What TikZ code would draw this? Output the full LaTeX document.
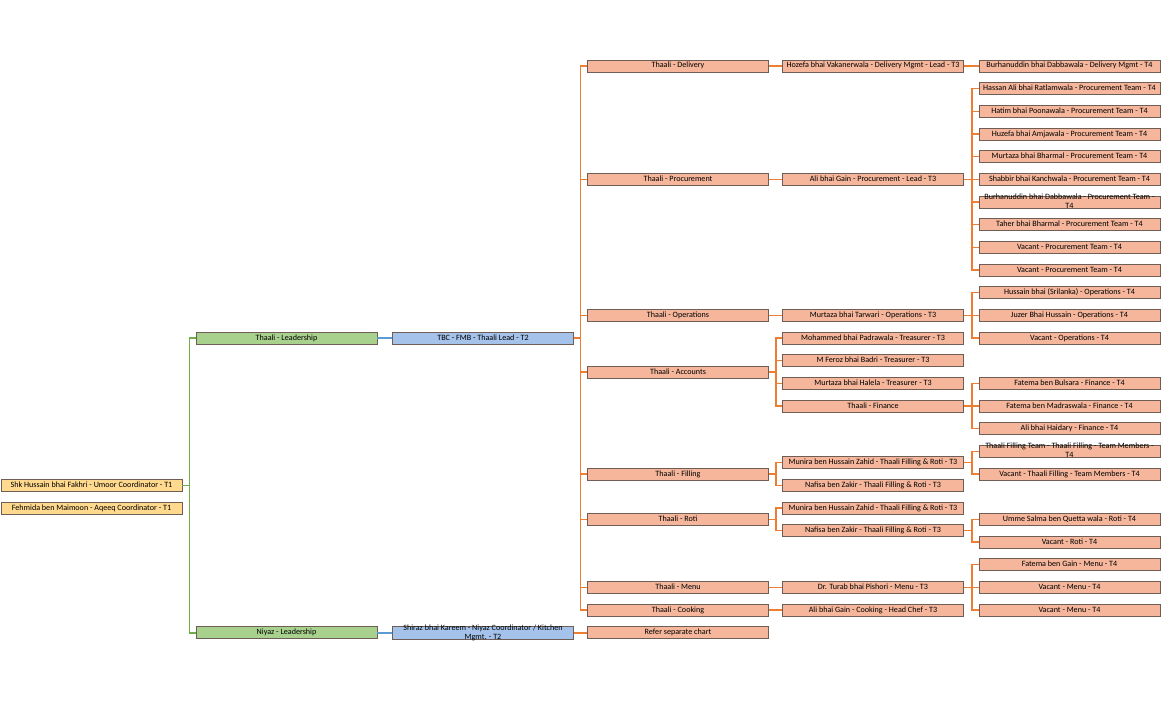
\documentclass[tikz,border=0pt]{standalone}
\usepackage{fontspec}
\setmainfont{Carlito}
\usepackage{tikz}
\usetikzlibrary{positioning,calc}
\definecolor{chartyellow}{HTML}{FFD98E}
\definecolor{chartgreen}{HTML}{A9D18E}
\definecolor{chartblue}{HTML}{A4C2EA}
\definecolor{chartsalmon}{HTML}{F5B69B}
\definecolor{linegreen}{HTML}{70AD47}
\definecolor{lineblue}{HTML}{5B9BD5}
\definecolor{lineorange}{HTML}{ED7D31}
\definecolor{boxedge}{HTML}{6E5E55}

\begin{document}
\begin{tikzpicture}[
    x=1pt, y=-22.67pt,
    box/.style={rectangle, draw=boxedge, line width=0.6pt, minimum width=181pt, inner xsep=1pt, inner ysep=2pt,
        text height=6pt, text depth=2pt, align=center, font=\fontsize{8.1}{8.8}\selectfont},
    wrapbox/.style={text width=179pt, align=flush center, text height=1.7pt, text depth=6.5pt},
    tone/.style={box, fill=chartyellow},
    ttwo/.style={box, fill=chartgreen},
    tthree/.style={box, fill=chartblue},
    tfour/.style={box, fill=chartsalmon},
    gline/.style={draw=linegreen, line width=1.5pt},
    bline/.style={draw=lineblue, line width=1.5pt},
    oline/.style={draw=lineorange, line width=1.5pt}
]
    \useasboundingbox (0,-2.911) rectangle (1164,27.967);

    % Coordinators
    \node (shk) [tone] at (91.5,18.5) {Shk Hussain bhai Fakhri - Umoor Coordinator - T1};
    \node (fehmida) [tone] at (91.5,19.5) {Fehmida ben Maimoon - Aqeeq Coordinator - T1};

    % Leadership
    \node (thaalilead) [ttwo] at (286.5,12) {Thaali - Leadership};
    \node (niyazlead) [ttwo] at (286.5,25) {Niyaz - Leadership};
    \node (tbc) [tthree] at (483,12) {TBC - FMB - Thaali Lead - T2};
    \node (shiraz) [tthree, wrapbox] at (483,25) {Shiraz bhai Kareem - Niyaz Coordinator / Kitchen\\ Mgmt. - T2};

    % Thaali areas
    \node (delivery) [tfour] at (678,0) {Thaali - Delivery};
    \node (procure) [tfour] at (678,5) {Thaali - Procurement};
    \node (ops) [tfour] at (678,11) {Thaali - Operations};
    \node (accounts) [tfour] at (678,13.5) {Thaali - Accounts};
    \node (filling) [tfour] at (678,18) {Thaali - Filling};
    \node (roti) [tfour] at (678,20) {Thaali - Roti};
    \node (menu) [tfour] at (678,23) {Thaali - Menu};
    \node (cooking) [tfour] at (678,24) {Thaali - Cooking};
    \node (refer) [tfour] at (678,25) {Refer separate chart};

    % T3 leads
    \node (hozefa) [tfour] at (873,0) {Hozefa bhai Vakanerwala - Delivery Mgmt - Lead - T3};
    \node (aligain) [tfour] at (873,5) {Ali bhai Gain - Procurement - Lead - T3};
    \node (tarwari) [tfour] at (873,11) {Murtaza bhai Tarwari - Operations - T3};
    \node (padrawala) [tfour] at (873,12) {Mohammed bhai Padrawala - Treasurer - T3};
    \node (feroz) [tfour] at (873,13) {M Feroz bhai Badri - Treasurer - T3};
    \node (halela) [tfour] at (873,14) {Murtaza bhai Halela - Treasurer - T3};
    \node (finance) [tfour] at (873,15) {Thaali - Finance};
    \node (munirafill) [tfour] at (873,17.5) {Munira ben Hussain Zahid - Thaali Filling \& Roti - T3};
    \node (nafisafill) [tfour] at (873,18.5) {Nafisa ben Zakir - Thaali Filling \& Roti - T3};
    \node (munirarot) [tfour] at (873,19.5) {Munira ben Hussain Zahid - Thaali Filling \& Roti - T3};
    \node (nafisarot) [tfour] at (873,20.5) {Nafisa ben Zakir - Thaali Filling \& Roti - T3};
    \node (turab) [tfour] at (873,23) {Dr. Turab bhai Pishori - Menu - T3};
    \node (alicook) [tfour] at (873,24) {Ali bhai Gain - Cooking - Head Chef - T3};

    % T4 team members
    \node (burhandel) [tfour] at (1069.5,0) {Burhanuddin bhai Dabbawala - Delivery Mgmt - T4};
    \node (hassan) [tfour] at (1069.5,1) {Hassan Ali bhai Ratlamwala - Procurement Team - T4};
    \node (hatim) [tfour] at (1069.5,2) {Hatim bhai Poonawala - Procurement Team - T4};
    \node (huzefa) [tfour] at (1069.5,3) {Huzefa bhai Amjawala - Procurement Team - T4};
    \node (bharmal) [tfour] at (1069.5,4) {Murtaza bhai Bharmal - Procurement Team - T4};
    \node (shabbir) [tfour] at (1069.5,5) {Shabbir bhai Kanchwala - Procurement Team - T4};
    \node (burhanproc) [tfour, wrapbox] at (1069.5,6) {Burhanuddin bhai Dabbawala - Procurement Team -\\ T4};
    \node (taher) [tfour] at (1069.5,7) {Taher bhai Bharmal - Procurement Team - T4};
    \node (vacproca) [tfour] at (1069.5,8) {Vacant - Procurement Team - T4};
    \node (vacprocb) [tfour] at (1069.5,9) {Vacant - Procurement Team - T4};
    \node (hussain) [tfour] at (1069.5,10) {Hussain bhai (Srilanka) - Operations - T4};
    \node (juzer) [tfour] at (1069.5,11) {Juzer Bhai Hussain - Operations - T4};
    \node (vacops) [tfour] at (1069.5,12) {Vacant - Operations - T4};
    \node (bulsara) [tfour] at (1069.5,14) {Fatema ben Bulsara - Finance - T4};
    \node (madraswala) [tfour] at (1069.5,15) {Fatema ben Madraswala - Finance - T4};
    \node (haidary) [tfour] at (1069.5,16) {Ali bhai Haidary - Finance - T4};
    \node (fillteam) [tfour, wrapbox] at (1069.5,17) {Thaali Filling Team - Thaali Filling - Team Members -\\ T4};
    \node (vacfill) [tfour] at (1069.5,18) {Vacant - Thaali Filling - Team Members - T4};
    \node (umme) [tfour] at (1069.5,20) {Umme Salma ben Quetta wala - Roti - T4};
    \node (vacroti) [tfour] at (1069.5,21) {Vacant - Roti - T4};
    \node (fatemagain) [tfour] at (1069.5,22) {Fatema ben Gain - Menu - T4};
    \node (vacmenua) [tfour] at (1069.5,23) {Vacant - Menu - T4};
    \node (vacmenub) [tfour] at (1069.5,24) {Vacant - Menu - T4};

    % Connectors
    \foreach \c in {thaalilead,niyazlead}
        \draw [gline] (shk.east) -- ++(7,0) |- (\c.west);
    \draw [bline] (thaalilead.east) -- (tbc.west);
    \draw [bline] (niyazlead.east) -- (shiraz.west);
    \foreach \c in {delivery,procure,ops,accounts,filling,roti,menu,cooking}
        \draw [oline] (tbc.east) -- ++(6.5,0) |- (\c.west);
    \draw [oline] (shiraz.east) -- (refer.west);
    \draw [oline] (delivery.east) -- (hozefa.west);
    \draw [oline] (procure.east) -- (aligain.west);
    \draw [oline] (ops.east) -- (tarwari.west);
    \foreach \c in {padrawala,feroz,halela,finance}
        \draw [oline] (accounts.east) -- ++(7,0) |- (\c.west);
    \foreach \c in {munirafill,nafisafill}
        \draw [oline] (filling.east) -- ++(7,0) |- (\c.west);
    \foreach \c in {munirarot,nafisarot}
        \draw [oline] (roti.east) -- ++(7,0) |- (\c.west);
    \draw [oline] (menu.east) -- (turab.west);
    \draw [oline] (cooking.east) -- (alicook.west);
    \draw [oline] (hozefa.east) -- (burhandel.west);
    \foreach \c in {hassan,hatim,huzefa,bharmal,shabbir,burhanproc,taher,vacproca,vacprocb}
        \draw [oline] (aligain.east) -- ++(8,0) |- (\c.west);
    \foreach \c in {hussain,juzer,vacops}
        \draw [oline] (tarwari.east) -- ++(8,0) |- (\c.west);
    \foreach \c in {bulsara,madraswala,haidary}
        \draw [oline] (finance.east) -- ++(8,0) |- (\c.west);
    \foreach \c in {fillteam,vacfill}
        \draw [oline] (munirafill.east) -- ++(8,0) |- (\c.west);
    \foreach \c in {umme,vacroti}
        \draw [oline] (nafisarot.east) -- ++(8,0) |- (\c.west);
    \foreach \c in {fatemagain,vacmenua,vacmenub}
        \draw [oline] (turab.east) -- ++(8,0) |- (\c.west);
\end{tikzpicture}
\end{document}
